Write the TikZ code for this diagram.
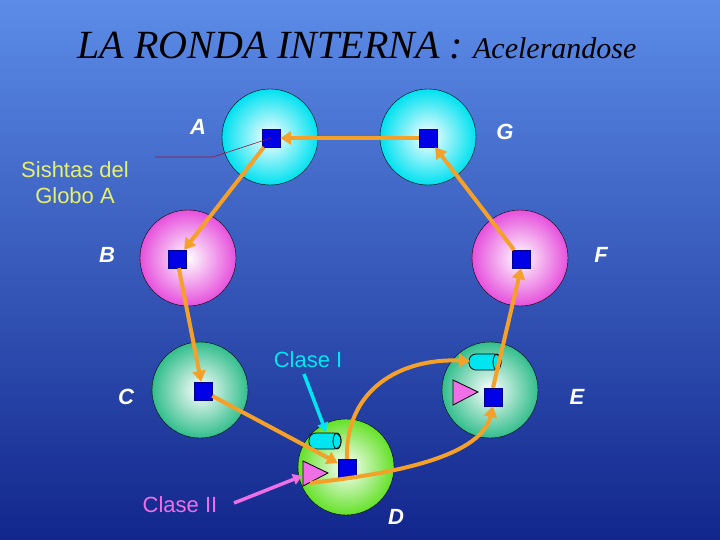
\documentclass[tikz,border=0pt]{standalone}
\usepackage{fontspec}
\setmainfont{Liberation Sans}
\newfontfamily\titlefont{Liberation Serif}
\usetikzlibrary{arrows.meta}
\definecolor{bgtop}{RGB}{92,140,232}
\definecolor{bgbot}{RGB}{18,38,140}
\definecolor{cyanb}{RGB}{0,225,240}
\definecolor{pinkb}{RGB}{230,80,220}
\definecolor{tealb}{RGB}{50,190,140}
\definecolor{greenb}{RGB}{100,225,40}
\definecolor{orangea}{RGB}{245,160,40}
\definecolor{sqb}{RGB}{0,0,230}
\definecolor{cylc}{RGB}{0,230,240}
\definecolor{trip}{RGB}{240,110,230}
\definecolor{yel}{RGB}{230,240,110}
\tikzset{
 globe/.style={circle,draw=black,minimum size=96pt,inner sep=0pt},
 sq/.style={rectangle,fill=sqb,draw=sqb!60!black,minimum size=18pt,inner sep=0pt},
 lett/.style={text=white,font=\fontsize{22}{22}\selectfont\bfseries\itshape},
 flow/.style={draw=orangea,line width=4pt,-{Triangle[length=11pt,width=13pt]}},
 cyl/.style={fill=cylc,draw=black,line width=0.8pt},
 tri/.style={fill=trip,draw=black,line width=0.8pt}
}
\begin{document}
\begin{tikzpicture}[x=1pt,y=-1pt]
\fill[top color=bgtop,bottom color=bgbot] (0,0) rectangle (720,540);
\useasboundingbox (0,0) rectangle (720,540);
% title
\node (title) at (357,46) {\titlefont\itshape\fontsize{40}{40}\selectfont LA RONDA INTERNA : \fontsize{30}{30}\selectfont Acelerandose};
% globes
\node[globe,inner color=white,outer color=cyanb] (gA) at (270,137) {};
\node[globe,inner color=white,outer color=cyanb] (gG) at (428,137) {};
\node[globe,inner color=white,outer color=pinkb] (gB) at (188,258) {};
\node[globe,inner color=white,outer color=pinkb] (gF) at (520,258) {};
\node[globe,inner color=white,outer color=tealb] (gC) at (200,390) {};
\node[globe,inner color=white,outer color=tealb] (gE) at (490,390) {};
\node[globe,inner color=white,outer color=greenb] (gD) at (346,467) {};
% cylinders and triangles
\draw[cyl,rounded corners=7pt] (309,433) rectangle (341,449);
\draw[black,line width=0.8pt] (337,441) ellipse[x radius=4,y radius=8];
\draw[cyl,rounded corners=7pt] (469,354) rectangle (501,370);
\draw[black,line width=0.8pt] (497,362) ellipse[x radius=4,y radius=8];
\path[tri] (303,461) -- (328,473) -- (303,486) -- cycle;
\path[tri] (453,380) -- (478,392) -- (453,405) -- cycle;
\coordinate (triD) at (310,483);
\coordinate (cylE) at (470,361);
% squares
\node[sq] (sA) at (271,138) {};
\node[sq] (sG) at (428,138) {};
\node[sq] (sB) at (177,259) {};
\node[sq] (sF) at (521,259) {};
\node[sq] (sC) at (203,391) {};
\node[sq] (sE) at (493,397) {};
\node[sq] (sD) at (347,468) {};
% flows
\draw[flow] (sG) -- (sA);
\draw[flow] (sA) -- (sB);
\draw[flow] (sB) -- (sC);
\draw[flow] (sC) -- (sD);
\draw[flow] (sD.north) .. controls (345,390) and (400,358) .. (cylE);
\draw[flow] (triD) .. controls (380,475) and (480,460) .. (sE.south);
\draw[flow] (sE.north) -- (sF.south);
\draw[flow] (sF) -- (sG);
% letters
\node[lett] (lA) at (198,127) {A};
\node[lett] (lG) at (505,132) {G};
\node[lett] (lB) at (107,255) {B};
\node[lett] (lF) at (601,255) {F};
\node[lett] (lC) at (126,397) {C};
\node[lett] (lE) at (577,397) {E};
\node[lett] (lD) at (396,517) {D};
% Sishtas
\node[text=yel,align=center,font=\fontsize{22}{26}\selectfont] (sis) at (75,183) {Sishtas del\\Globo A};
\coordinate (sisk) at (213,157);
\draw[draw={rgb,255:red,150;green,20;blue,60},line width=0.6pt] (155,157) -- (sisk) -- (sA.center);
% Clase labels
\node[text=cylc,font=\fontsize{22}{22}\selectfont] (c1) at (308,360) {Clase I};
\coordinate (c1t) at (326,432);
\draw[draw=cylc,line width=3.5pt,-{Triangle[length=9pt,width=11pt]}] (304,374) -- (c1t);
\node[text=trip,font=\fontsize{22}{22}\selectfont] (c2) at (180,505) {Clase II};
\coordinate (c2t) at (302,476);
\draw[draw=trip,line width=3.5pt,-{Triangle[length=9pt,width=11pt]}] (234,503) -- (c2t);
\end{tikzpicture}
\end{document}
